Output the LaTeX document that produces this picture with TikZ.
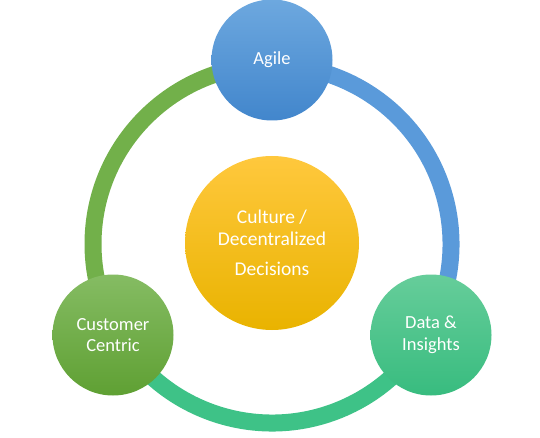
\documentclass[tikz,border=0pt]{standalone}
\usepackage{fontspec}
\setmainfont{Carlito}
\definecolor{agileTop}{HTML}{6DA8DF}
\definecolor{agileBot}{HTML}{4286CC}
\definecolor{custTop}{HTML}{85BC63}
\definecolor{custBot}{HTML}{5FA033}
\definecolor{dataTop}{HTML}{66CD9A}
\definecolor{dataBot}{HTML}{38BC7F}
\definecolor{cultTop}{HTML}{FFC83D}
\definecolor{cultBot}{HTML}{E9B300}
\definecolor{ringGreen}{HTML}{72B04A}
\definecolor{ringBlue}{HTML}{5A9ADA}
\definecolor{ringTeal}{HTML}{3EC287}

\begin{document}
\begin{tikzpicture}[x=1pt,y=1pt,
  bubble/.style={circle,inner sep=0pt,minimum size=121pt,text=white,
    align=center,font=\fontsize{18.5}{21.5}\selectfont},
  ring/.style={line width=17pt}]
\useasboundingbox (0,0) rectangle (540,437);
\coordinate (O) at (272,193);

% ring under the bubbles
\draw[ring,ringGreen] (O) ++(90:179) arc (90:212:179);
\draw[ring,ringBlue] (O) ++(-32:179) arc (-32:90:179);
\draw[ring,ringTeal] (O) ++(208:179) arc (208:332:179);

\node[bubble,top color=agileTop,bottom color=agileBot] (agile) at (272,377) {Agile};
\node[bubble,top color=custTop,bottom color=custBot] (customer) at (113,102) {Customer\\Centric};
\node[bubble,top color=dataTop,bottom color=dataBot] (data) at (431,102) {Data \&\\Insights};

\node[bubble,minimum size=174pt,top color=cultTop,bottom color=cultBot,
  font=\fontsize{19.5}{22}\selectfont] (culture) at (272,194)
  {Culture /\\Decentralized\\[8pt]Decisions};

\end{tikzpicture}
\end{document}
